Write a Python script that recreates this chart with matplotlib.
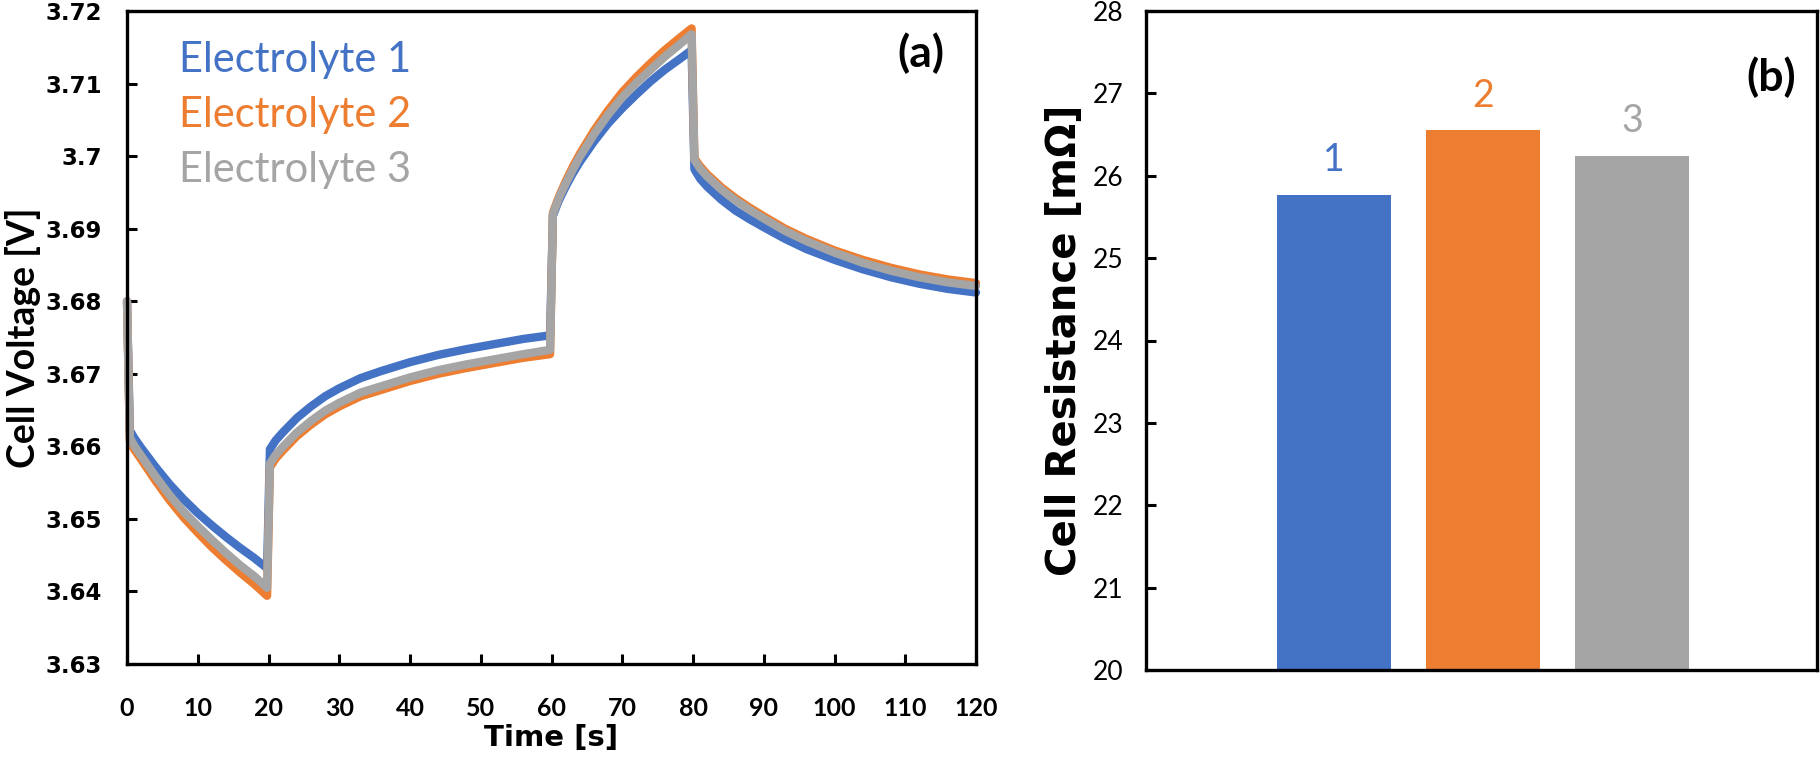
import numpy as np
import matplotlib
matplotlib.use("Agg")
import matplotlib.pyplot as plt

# ---- data ----
t = [0, 0.4, 1, 2, 4, 6, 8, 10, 12, 14, 16, 18, 19.8,
     20.2, 21, 22, 24, 26, 28, 30, 33, 36, 40, 44, 48, 52, 56, 59.8,
     60.2, 61, 62, 63, 64, 66, 68, 70, 72, 74, 76, 78, 79.8,
     80.2, 81, 82, 84, 86, 88, 90, 93, 96, 100, 104, 108, 112, 116, 120]

v_e1 = [3.680, 3.6622, 3.6612, 3.6598, 3.6572, 3.6548, 3.6527, 3.6508, 3.6491, 3.6475, 3.6460, 3.6446, 3.6432,
        3.6596, 3.6608, 3.6619, 3.6639, 3.6655, 3.6669, 3.6680, 3.6694, 3.6704, 3.6716, 3.6726, 3.6734, 3.6741, 3.6748, 3.6753,
        3.6918, 3.6938, 3.6958, 3.6976, 3.6992, 3.7020, 3.7045, 3.7066, 3.7085, 3.7103, 3.7119, 3.7133, 3.7146,
        3.6982, 3.6969, 3.6958, 3.6940, 3.6925, 3.6913, 3.6902, 3.6886, 3.6872, 3.6857, 3.6844, 3.6833, 3.6824, 3.6817, 3.6812]

v_e2 = [3.680, 3.6607, 3.6596, 3.6582, 3.6553, 3.6526, 3.6502, 3.6481, 3.6461, 3.6443, 3.6426, 3.6410, 3.6394,
        3.6571, 3.6583, 3.6594, 3.6614, 3.6630, 3.6644, 3.6655, 3.6669, 3.6678, 3.6690, 3.6700, 3.6708, 3.6715, 3.6722, 3.6727,
        3.6922, 3.6943, 3.6965, 3.6985, 3.7003, 3.7035, 3.7063, 3.7088, 3.7109, 3.7128, 3.7146, 3.7162, 3.7176,
        3.6997, 3.6986, 3.6975, 3.6957, 3.6942, 3.6929, 3.6917, 3.6900, 3.6886, 3.6870, 3.6857, 3.6846, 3.6837, 3.6830, 3.6825]

v_e3 = [3.680, 3.6612, 3.6601, 3.6587, 3.6559, 3.6533, 3.6510, 3.6490, 3.6471, 3.6453, 3.6436, 3.6421, 3.6405,
        3.6576, 3.6588, 3.6599, 3.6619, 3.6635, 3.6649, 3.6660, 3.6674, 3.6683, 3.6695, 3.6705, 3.6713, 3.6720, 3.6727, 3.6733,
        3.6920, 3.6941, 3.6962, 3.6981, 3.6999, 3.7030, 3.7057, 3.7081, 3.7101, 3.7119, 3.7137, 3.7153, 3.7168,
        3.6995, 3.6983, 3.6972, 3.6954, 3.6939, 3.6926, 3.6914, 3.6897, 3.6883, 3.6867, 3.6853, 3.6842, 3.6833, 3.6826, 3.6821]

series_names = ["Electrolyte 1", "Electrolyte 2", "Electrolyte 3"]
colors = ["#4472C4", "#ED7D31", "#A5A5A5"]

xticks_a = [0, 10, 20, 30, 40, 50, 60, 70, 80, 90, 100, 110, 120]
yticks_a = [3.63, 3.64, 3.65, 3.66, 3.67, 3.68, 3.69, 3.70, 3.71, 3.72]
ylabels_a = ["3.63", "3.64", "3.65", "3.66", "3.67", "3.68", "3.69", "3.7", "3.71", "3.72"]

bar_labels = ["1", "2", "3"]
resistance = [25.77, 26.55, 26.24]
yticks_b = [20, 21, 22, 23, 24, 25, 26, 27, 28]

# ---- figure ----
fig = plt.figure(figsize=(18.2, 7.59), dpi=100)
W, H = 1820, 759
ax1 = fig.add_axes([127 / W, 1 - 664 / H, (976 - 127) / W, (664 - 11) / H])
ax2 = fig.add_axes([1146 / W, 1 - 670 / H, (1817 - 1146) / W, (670 - 11) / H])

# (a) voltage curves
for v, c in zip([v_e1, v_e2, v_e3], colors):
    ax1.plot(t, v, color=c, lw=6, solid_joinstyle="round", solid_capstyle="round", clip_on=False)

ax1.set_xlim(0, 120)
ax1.set_ylim(3.63, 3.72)
ax1.set_xticks(xticks_a)
ax1.set_xticklabels([str(x) for x in xticks_a], family="Lato", weight="bold", fontsize=18)
ax1.set_yticks(yticks_a)
ax1.set_yticklabels(ylabels_a, family="DejaVu Sans", weight="bold", fontsize=16.5)
ax1.tick_params(axis="x", direction="in", length=7, width=2.2, pad=24)
ax1.tick_params(axis="y", direction="in", length=7, width=2.2, pad=18)
ax1.set_xlabel("Time [s]", family="DejaVu Sans", weight="bold", fontsize=21, labelpad=3)
ax1.set_ylabel("Cell Voltage [V]", family="Lato", weight="bold", fontsize=27)
ax1.yaxis.set_label_coords(-0.101, 0.5)

for i, (name, c) in enumerate(zip(series_names, colors)):
    ax1.text(0.061, 0.925 - i * 0.084, name, transform=ax1.transAxes, color=c,
             family="Lato", fontsize=30, va="center", ha="left")
ax1.text(0.935, 0.935, "(a)", transform=ax1.transAxes, family="Lato", weight="bold",
         fontsize=32, ha="center", va="center")

# (b) resistance bars
xb = np.arange(len(resistance))
ax2.bar(xb, resistance, width=0.76, color=colors, bottom=0)
for x, r, lab, c in zip(xb, resistance, bar_labels, colors):
    ax2.text(x, r + 0.42, lab, color=c, family="Lato", fontsize=27, ha="center", va="center")
ax2.set_xlim(-1.262, 3.242)
ax2.set_ylim(20, 28)
ax2.set_yticks(yticks_b)
ax2.set_yticklabels([str(y) for y in yticks_b], family="Lato", fontsize=19)
ax2.set_xticks([])
ax2.tick_params(axis="y", direction="in", length=7, width=2.2, pad=16)
ax2.set_ylabel("Cell Resistance [m\u03a9]", family="DejaVu Sans", weight="bold", fontsize=29, labelpad=6)
ax2.text(0.932, 0.9, "(b)", transform=ax2.transAxes, family="Lato", weight="bold",
         fontsize=32, ha="center", va="center")

for ax in (ax1, ax2):
    for s in ax.spines.values():
        s.set_linewidth(2.4)
        s.set_color("black")

fig.savefig("out.png", dpi=100)
